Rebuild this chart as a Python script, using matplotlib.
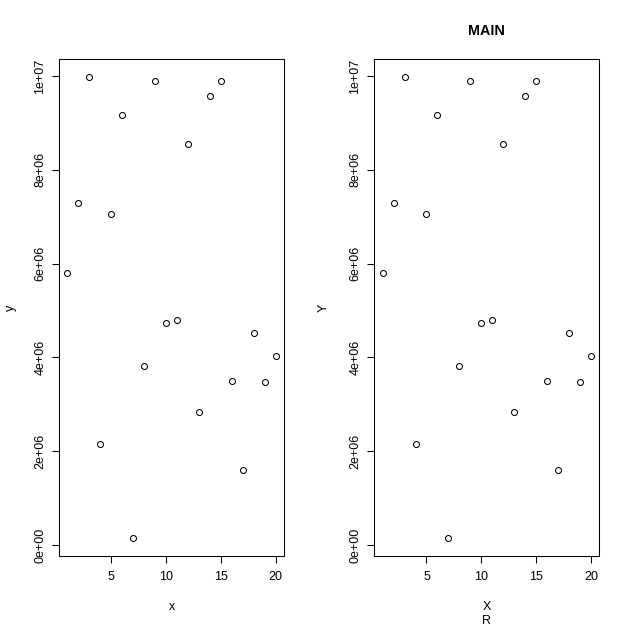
# two R-style scatter panels, same data

import matplotlib
matplotlib.use("Agg")
import matplotlib.pyplot as plt

plt.rcParams['font.family'] = ['Liberation Sans', 'DejaVu Sans']

# data
xs = [1, 2, 3, 4, 5, 6, 7, 8, 9, 10, 11, 12, 13, 14, 15, 16, 17, 18, 19, 20]
ys = [5.80e6, 7.29e6, 9.97e6, 2.16e6, 7.06e6, 9.16e6, 0.16e6, 3.82e6, 9.89e6, 4.74e6,
      4.79e6, 8.55e6, 2.84e6, 9.57e6, 9.89e6, 3.50e6, 1.61e6, 4.53e6, 3.48e6, 4.04e6]

xticks = [5, 10, 15, 20]
yticks = [0, 2e6, 4e6, 6e6, 8e6, 1e7]
yticklabels = ["0e+00", "2e+06", "4e+06", "6e+06", "8e+06", "1e+07"]

fs = 9.0  # ~12px like R default


def rplot(ax, xlab, ylab, ylab_x):
    ax.plot(xs, ys, 'o', mfc='none', mec='black', ms=4.3, mew=0.75)
    # R pads the range by 4%
    xr = max(xs) - min(xs)
    yr = max(ys) - min(ys)
    ax.set_xlim(min(xs) - 0.04 * xr, max(xs) + 0.04 * xr)
    ax.set_ylim(min(ys) - 0.04 * yr, max(ys) + 0.04 * yr)
    ax.set_xticks(xticks)
    ax.set_yticks(yticks)
    ax.set_yticklabels(yticklabels, rotation=90, va='center')
    ax.tick_params(axis='both', direction='out', length=5.2, width=0.75, labelsize=fs, color='black')
    ax.tick_params(axis='x', pad=5.3)
    ax.tick_params(axis='y', pad=4.0)
    for sp in ax.spines.values():
        sp.set_linewidth(0.75)
    ax.set_xlabel(xlab, fontsize=fs)
    ax.xaxis.label.set_va('center')
    ax.xaxis.set_label_coords(0.5, -0.103)
    ax.set_ylabel(ylab, fontsize=fs)
    ax.yaxis.label.set_va('center')
    ax.yaxis.set_label_coords(ylab_x, 0.5)


fig = plt.figure(figsize=(6.3, 6.3), dpi=100)
ax1 = fig.add_axes([0.0937, 0.1175, 0.3571, 0.7889])
ax2 = fig.add_axes([0.5941, 0.1175, 0.3571, 0.7889])

rplot(ax1, "x", "y", -0.213)
rplot(ax2, "X", "Y", -0.227)

ax2.text(0.5, 1.056, "MAIN", transform=ax2.transAxes, ha='center', va='center',
         fontsize=10.4, fontweight='bold')
ax2.text(0.5, -0.131, "R", transform=ax2.transAxes, ha='center', va='center', fontsize=fs)

fig.savefig("out.png", dpi=100)
